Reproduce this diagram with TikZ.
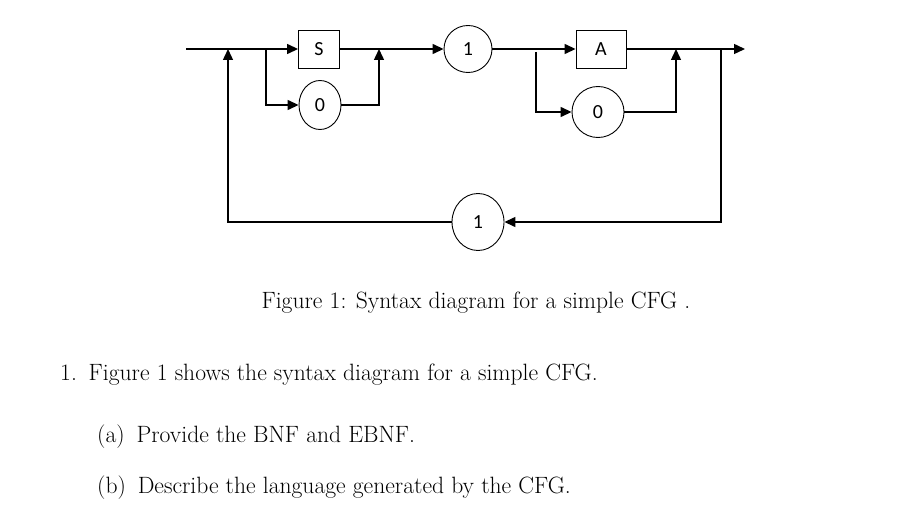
\documentclass[tikz,border=0pt]{standalone}
\usepackage{fontspec}
\newfontfamily\carlfont{Carlito}
\usetikzlibrary{arrows.meta,shapes.geometric}
\begin{document}
\begin{tikzpicture}[x=1pt,y=-1pt,
  line/.style={line width=1.4pt},
  arr/.style={line width=1.4pt,-{Triangle[length=11pt,width=10pt]}},
  term/.style={draw,line width=0.9pt,ellipse,inner sep=0pt,font=\carlfont\fontsize{20}{20}\selectfont},
  nonterm/.style={draw,line width=0.9pt,rectangle,inner sep=0pt,font=\carlfont\fontsize{20}{20}\selectfont},
  txt/.style={font=\fontsize{23.6}{28}\selectfont,anchor=west,inner sep=0pt}]
\useasboundingbox (0,0) rectangle (909,516);
\node[nonterm,minimum width=41pt,minimum height=38pt] (S) at (319,49) {S};
\node[term,minimum width=42pt,minimum height=49pt] (z1) at (320,105) {0};
\node[term,minimum width=48pt,minimum height=47pt] (o1) at (468,49) {1};
\node[nonterm,minimum width=50pt,minimum height=38pt] (A) at (601,49) {A};
\node[term,minimum width=52pt,minimum height=51pt] (z2) at (598,112) {0};
\node[term,minimum width=52pt,minimum height=57pt] (o2) at (478,222) {1};
\coordinate (st) at (186,49);
\coordinate (b1) at (266,49);
\coordinate (m1) at (379,49);
\coordinate (b2) at (536,52);
\coordinate (m2) at (676,49);
\coordinate (rv) at (721,49);
\coordinate (en) at (745,49);
\coordinate (lv) at (228,49);
\draw[line] (st) -- (b1);
\draw[arr] (b1) -- (S.west);
\draw[arr] (b1) |- (z1.west);
\draw[line] (S.east) -- (m1);
\draw[arr] (z1.east) -| (m1);
\draw[arr] (m1) -- (o1.west);
\draw[arr] (o1.east) -- (A.west);
\draw[arr] (b2) |- (z2.west);
\draw[line] (A.east) -- (rv);
\draw[arr] (z2.east) -| (m2);
\draw[arr] (rv) -- (en);
\draw[arr] (rv) |- (o2.east);
\draw[arr] (o2.west) -| (lv);
\node[font=\fontsize{23.6}{28}\selectfont] (cap) at (476,303) {Figure 1: Syntax diagram for a simple CFG .};
\node[txt] (q1) at (60,375) {1.\enspace Figure 1 shows the syntax diagram for a simple CFG.};
\node[txt] (qa) at (97,437) {(a)\enspace Provide the BNF and EBNF.};
\node[txt] (qb) at (97,488) {(b)\enspace Describe the language generated by the CFG.};
\end{tikzpicture}
\end{document}
